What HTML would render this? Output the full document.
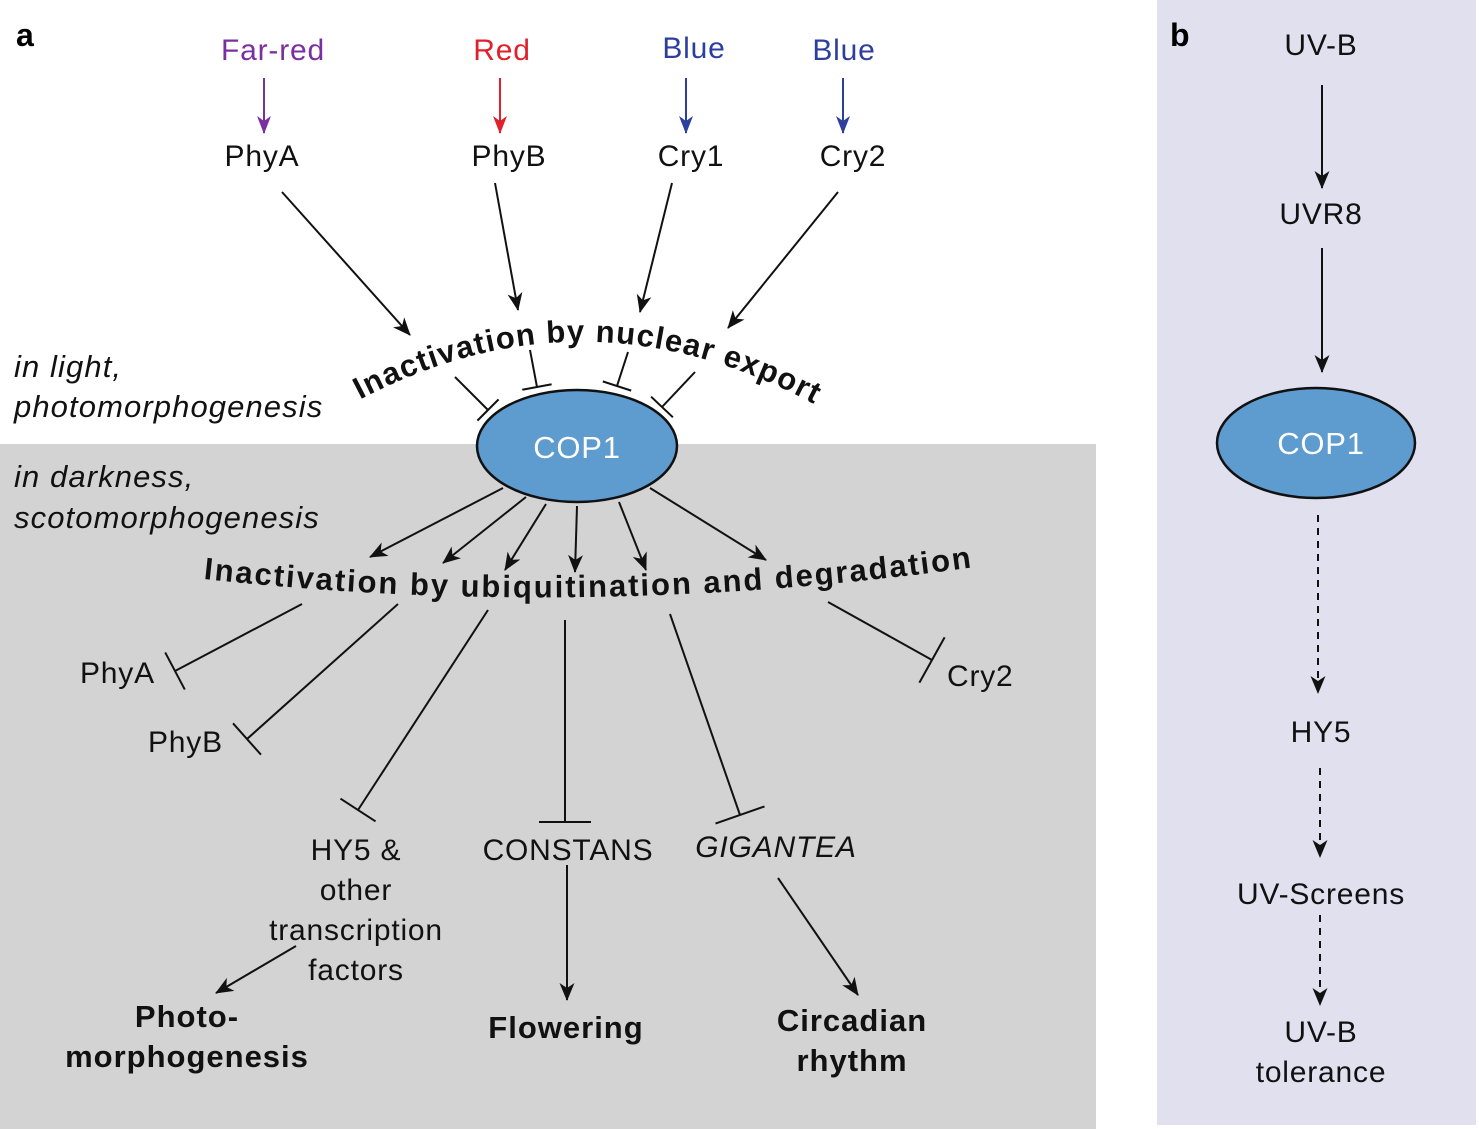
<!DOCTYPE html>
<html><head><meta charset="utf-8"><style>
html,body{margin:0;padding:0;background:#fff;}
svg{display:block;font-family:"Liberation Sans",Arial,sans-serif;}
</style></head><body>
<svg width="1479" height="1129" viewBox="0 0 1479 1129" xmlns="http://www.w3.org/2000/svg">
<defs>
<marker id="ak" markerWidth="18" markerHeight="18" refX="17" refY="9" orient="auto" markerUnits="userSpaceOnUse"><path d="M0,1.5 L18,9 L0,16.5 L5,9 Z" fill="#111"/></marker>
<marker id="ap" markerWidth="18" markerHeight="18" refX="17" refY="9" orient="auto" markerUnits="userSpaceOnUse"><path d="M0,2 L18,9 L0,16 L5,9 Z" fill="#7a2fa0"/></marker>
<marker id="ar" markerWidth="18" markerHeight="18" refX="17" refY="9" orient="auto" markerUnits="userSpaceOnUse"><path d="M0,2 L18,9 L0,16 L5,9 Z" fill="#e0202a"/></marker>
<marker id="ab" markerWidth="18" markerHeight="18" refX="17" refY="9" orient="auto" markerUnits="userSpaceOnUse"><path d="M0,2 L18,9 L0,16 L5,9 Z" fill="#2d3f9e"/></marker>
<marker id="bar" markerWidth="4" markerHeight="30" refX="2" refY="15" orient="auto" markerUnits="userSpaceOnUse"><path d="M2,0 L2,30" stroke="#111" stroke-width="2"/></marker>
<marker id="barw" markerWidth="4" markerHeight="52" refX="2" refY="26" orient="auto" markerUnits="userSpaceOnUse"><path d="M2,0 L2,52" stroke="#111" stroke-width="2"/></marker>
<marker id="barm" markerWidth="4" markerHeight="42" refX="2" refY="21" orient="auto" markerUnits="userSpaceOnUse"><path d="M2,0 L2,42" stroke="#111" stroke-width="2"/></marker>
<path id="up" d="M350,405 Q585,276 825,410"/>
<path id="dn" d="M195,578 Q587,622 982,566"/>
</defs>
<rect x="0" y="444" width="1096" height="685" fill="#d3d3d3"/>
<rect x="1157" y="0" width="319" height="1125" fill="#e0e0ef"/>

<g font-size="30" text-anchor="middle" fill="#111" letter-spacing="0.8">
<text x="273" y="60" fill="#7a2fa0">Far-red</text>
<text x="502" y="60" fill="#e0202a">Red</text>
<text x="694" y="58" fill="#2d3f9e">Blue</text>
<text x="844" y="60" fill="#2d3f9e">Blue</text>
<text x="262" y="166">PhyA</text>
<text x="509" y="166">PhyB</text>
<text x="691" y="166">Cry1</text>
<text x="853" y="166">Cry2</text>
</g>
<text x="16" y="46" font-size="32" font-weight="bold">a</text>
<text x="1170" y="46" font-size="32" font-weight="bold">b</text>

<g stroke-width="2" fill="none">
<line x1="264" y1="78" x2="264" y2="133" stroke="#7a2fa0" marker-end="url(#ap)"/>
<line x1="500" y1="78" x2="500" y2="133" stroke="#e0202a" marker-end="url(#ar)"/>
<line x1="686" y1="78" x2="686" y2="133" stroke="#2d3f9e" marker-end="url(#ab)"/>
<line x1="843" y1="78" x2="843" y2="133" stroke="#2d3f9e" marker-end="url(#ab)"/>
<g stroke="#111">
<line x1="282" y1="192" x2="410" y2="335" marker-end="url(#ak)"/>
<line x1="495" y1="183" x2="518" y2="310" marker-end="url(#ak)"/>
<line x1="672" y1="183" x2="640" y2="312" marker-end="url(#ak)"/>
<line x1="838" y1="192" x2="728" y2="328" marker-end="url(#ak)"/>
<line x1="455" y1="377" x2="488" y2="410" marker-end="url(#bar)"/>
<line x1="530" y1="350" x2="537" y2="387" marker-end="url(#bar)"/>
<line x1="628" y1="352" x2="617" y2="386" marker-end="url(#bar)"/>
<line x1="695" y1="372" x2="662" y2="407" marker-end="url(#bar)"/>
<line x1="503" y1="488" x2="370" y2="557" marker-end="url(#ak)"/>
<line x1="526" y1="497" x2="443" y2="563" marker-end="url(#ak)"/>
<line x1="546" y1="504" x2="505" y2="570" marker-end="url(#ak)"/>
<line x1="577" y1="506" x2="575" y2="572" marker-end="url(#ak)"/>
<line x1="619" y1="502" x2="646" y2="570" marker-end="url(#ak)"/>
<line x1="650" y1="488" x2="766" y2="560" marker-end="url(#ak)"/>
<line x1="302" y1="604" x2="175" y2="671" marker-end="url(#barm)"/>
<line x1="398" y1="604" x2="247" y2="739" marker-end="url(#barm)"/>
<line x1="488" y1="610" x2="358" y2="810" marker-end="url(#barm)"/>
<line x1="565" y1="620" x2="565" y2="822" marker-end="url(#barw)"/>
<line x1="670" y1="614" x2="740" y2="815" marker-end="url(#barw)"/>
<line x1="828" y1="602" x2="932" y2="660" marker-end="url(#barw)"/>
<line x1="567" y1="865" x2="567" y2="1000" marker-end="url(#ak)"/>
<line x1="778" y1="878" x2="858" y2="995" marker-end="url(#ak)"/>
<line x1="296" y1="946" x2="216" y2="993" marker-end="url(#ak)"/>
<line x1="1322" y1="85" x2="1322" y2="188" marker-end="url(#ak)"/>
<line x1="1322" y1="248" x2="1322" y2="372" marker-end="url(#ak)"/>
<g stroke-dasharray="7,6">
<line x1="1318" y1="515" x2="1318" y2="693" marker-end="url(#ak)"/>
<line x1="1320" y1="768" x2="1320" y2="857" marker-end="url(#ak)"/>
<line x1="1320" y1="915" x2="1320" y2="1005" marker-end="url(#ak)"/>
</g>
</g>
</g>

<ellipse cx="577" cy="446" rx="100" ry="56" fill="#5e9bcf" stroke="#111" stroke-width="2.5"/>
<text x="577" y="458" font-size="31" fill="#fff" text-anchor="middle" letter-spacing="0.8">COP1</text>
<ellipse cx="1316" cy="443" rx="99" ry="55" fill="#5e9bcf" stroke="#111" stroke-width="2.5"/>
<text x="1321" y="454" font-size="31" fill="#fff" text-anchor="middle" letter-spacing="0.8">COP1</text>

<text font-size="31" font-weight="bold" fill="#111" letter-spacing="1.2"><textPath href="#up" startOffset="50%" text-anchor="middle">Inactivation by nuclear export</textPath></text>
<text font-size="31" font-weight="bold" fill="#111" letter-spacing="2"><textPath href="#dn" startOffset="50%" text-anchor="middle">Inactivation by ubiquitination and degradation</textPath></text>

<g font-size="31" font-style="italic" fill="#111" letter-spacing="1.1">
<text x="14" y="377">in light,</text>
<text x="14" y="417">photomorphogenesis</text>
<text x="14" y="487">in darkness,</text>
<text x="14" y="528">scotomorphogenesis</text>
</g>

<g font-size="30" fill="#111" letter-spacing="0.8">
<text x="80" y="683">PhyA</text>
<text x="148" y="752">PhyB</text>
<text x="947" y="686">Cry2</text>
<text x="568" y="860" text-anchor="middle">CONSTANS</text>
<text x="776" y="857" text-anchor="middle" font-style="italic">GIGANTEA</text>
<g text-anchor="middle">
<text x="356" y="860">HY5 &amp;</text>
<text x="356" y="900">other</text>
<text x="356" y="940">transcription</text>
<text x="356" y="980">factors</text>
<text x="1321" y="55">UV-B</text>
<text x="1321" y="224">UVR8</text>
<text x="1321" y="742">HY5</text>
<text x="1321" y="904">UV-Screens</text>
<text x="1321" y="1042">UV-B</text>
<text x="1321" y="1082">tolerance</text>
</g>
</g>
<g font-size="31" font-weight="bold" fill="#111" text-anchor="middle" letter-spacing="1">
<text x="187" y="1027">Photo-</text>
<text x="187" y="1067">morphogenesis</text>
<text x="566" y="1038">Flowering</text>
<text x="852" y="1031">Circadian</text>
<text x="852" y="1071">rhythm</text>
</g>
</svg>
</body></html>
